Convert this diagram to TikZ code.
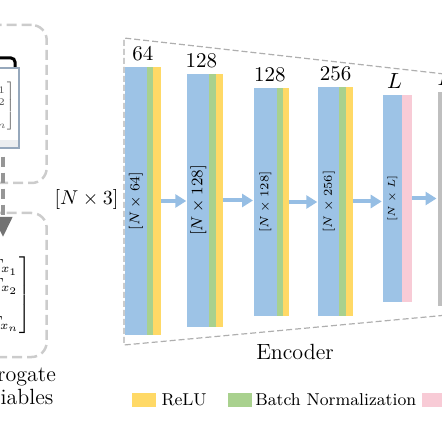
\documentclass[tikz,border=0pt]{standalone}
\usepackage{amsmath}
\usepackage{fontspec}
\usepackage{xcolor}
\usepackage{tikz}
\usetikzlibrary{shapes,arrows,arrows.meta,positioning,calc}
\definecolor{lblue}{RGB}{157,195,230}
\definecolor{lgreen}{RGB}{169,209,142}
\definecolor{lyellow}{RGB}{255,217,102}
\definecolor{lpink}{RGB}{248,203,214}
\definecolor{lgray}{RGB}{191,191,191}
\definecolor{arrowblue}{RGB}{150,190,228}
\definecolor{boxgray}{RGB}{204,204,204}
\definecolor{encgray}{RGB}{175,175,175}
\definecolor{cardedge}{RGB}{150,168,188}
\definecolor{cardband}{RGB}{236,238,240}
\definecolor{shaftgray}{RGB}{150,150,150}
\definecolor{tipgray}{RGB}{115,115,115}

\begin{document}
\begin{tikzpicture}[x=0.5pt, y=-0.5pt]
\tikzstyle{lay} = [rectangle, inner sep=0pt, outer sep=0pt, fill=lblue]
\tikzstyle{a} = [-{Triangle[length=5.5pt,width=6.5pt]}, line width=2pt, draw=arrowblue, shorten >=0.5pt]
\tikzstyle{num} = [font=\fontsize{10.5}{12}\selectfont, anchor=south, inner sep=3pt]
\tikzstyle{dim} = [rotate=90, inner sep=0pt]
\tikzstyle{grp} = [rectangle, draw=boxgray, line width=1.25pt, dash pattern=on 5pt off 2.5pt, rounded corners=7.5pt, inner sep=0pt]
\tikzstyle{enc} = [draw=encgray, line width=0.6pt, dash pattern=on 3pt off 1.5pt]
\tikzstyle{key} = [rectangle, minimum width=12pt, minimum height=7pt, inner sep=0pt]
\tikzstyle{leg} = [font=\fontsize{8.6}{10}\selectfont, inner sep=0pt]
\useasboundingbox (0,0) rectangle (442,442);
\clip (0,0) rectangle (442,442);

% inputs and surrogate variables
\node[grp, minimum width=43.35pt, minimum height=79pt] (inbox) at (3.35,104) {};
\node[grp, minimum width=43.35pt, minimum height=72pt] (outbox) at (3.35,285) {};
\node[rectangle, draw=black, fill=white, line width=1.5pt, rounded corners=2pt, minimum width=27.5pt, minimum height=13.5pt] (back) at (-12.5,71.5) {};
\node[rectangle, draw=cardedge, fill=white, line width=0.6pt, minimum width=29.5pt, minimum height=40pt,
  path picture={\fill[cardband] (path picture bounding box.south west) rectangle ([yshift=4pt]path picture bounding box.south east);}] (card) at (-10.5,108) {};
\node[anchor=east, inner sep=0pt, text=black!65, font=\fontsize{5}{6}\selectfont] (xs) at (15,106)
  {\setlength{\arraycolsep}{1pt}$\begin{bmatrix} x_1\\ x_2\\ \\ x_n \end{bmatrix}$};
\coordinate (tip) at (3,237);
\draw[draw=shaftgray, line width=2pt, dash pattern=on 5pt off 3pt, -{Triangle[length=10pt,width=9pt,color=tipgray]}] (card.south -| tip) ++(0,8) -- (tip);
\node[anchor=east, inner sep=0pt, font=\fontsize{8}{9.5}\selectfont] (fs) at (31,295.5)
  {\setlength{\arraycolsep}{1pt}$\begin{bmatrix} F_{x_1}\\ F_{x_2}\\ \\ F_{x_n} \end{bmatrix}$};
\node[align=center, font=\fontsize{11}{11.5}\selectfont] (sv) at (7.7,385) {\textbf{Sur}rogate\\\textbf{Var}iables};
\node[font=\fontsize{10}{12}\selectfont] (inp) at (86.5,200) {$[N\times 3]$};

% encoder frame
\coordinate (tl) at (124,38);
\coordinate (tr) at (480,78);
\coordinate (bl) at (124,345);
\coordinate (br) at (480,312);
\draw[enc] (tr) -- (tl) -- (bl) -- (br);
\node[font=\fontsize{11}{13}\selectfont] (enc) at (295,352) {Encoder};

% layer 1
\node[lay, minimum width=10.85pt, minimum height=134pt] (b1) at (135.85,201) {};
\node[lay, fill=lgreen, minimum width=3.3pt, minimum height=134pt, right=0pt of b1] (g1) {};
\node[lay, fill=lyellow, minimum width=3.7pt, minimum height=134pt, right=0pt of g1] (y1) {};
\node[dim, font=\fontsize{7}{8}\selectfont] at (b1) {$[N\times 64]$};
\node[num] at ($(b1.north west)!.5!(y1.north east)$) {64};
% layer 2
\node[lay, minimum width=11pt, minimum height=126.5pt] (b2) at (198.3,200.5) {};
\node[lay, fill=lgreen, minimum width=3.35pt, minimum height=126.5pt, right=0pt of b2] (g2) {};
\node[lay, fill=lyellow, minimum width=3.35pt, minimum height=126.5pt, right=0pt of g2] (y2) {};
\node[dim, font=\fontsize{8}{9}\selectfont] at (b2) {$[N\times 128]$};
\node[num] at ($(b2.north west)!.4!(y2.north east)$) {128};
% layer 3
\node[lay, minimum width=11.35pt, minimum height=114pt] (b3) at (265.35,202) {};
\node[lay, fill=lgreen, minimum width=3pt, minimum height=114pt, right=0pt of b3] (g3) {};
\node[lay, fill=lyellow, minimum width=3.2pt, minimum height=114pt, right=0pt of g3] (y3) {};
\node[dim, font=\fontsize{6.5}{8}\selectfont] at (b3) {$[N\times 128]$};
\node[num] at ($(b3.north west)!.45!(y3.north east)$) {128};
% layer 4
\node[lay, minimum width=10.5pt, minimum height=114.5pt] (b4) at (328.8,201.5) {};
\node[lay, fill=lgreen, minimum width=3.35pt, minimum height=114.5pt, right=0pt of b4] (g4) {};
\node[lay, fill=lyellow, minimum width=3.35pt, minimum height=114.5pt, right=0pt of g4] (y4) {};
\node[dim, font=\fontsize{6.5}{8}\selectfont] at (b4) {$[N\times 256]$};
\node[num] at ($(b4.north west)!.5!(y4.north east)$) {256};
% layer 5 (latent)
\node[lay, minimum width=9.7pt, minimum height=103.5pt] (b5) at (392.4,198.5) {};
\node[lay, fill=lpink, minimum width=5pt, minimum height=103.5pt, right=0pt of b5] (p5) {};
\node[dim, font=\fontsize{5.5}{7}\selectfont] at (b5) {$[N\times L]$};
\node[num] at ($(b5.north west)!.4!(p5.north east)$) {$L$};
% layer 6
\node[lay, fill=lgray, minimum width=10pt, minimum height=107pt] (k6) at (447.5,199) {};
\node[num] at ($(k6.north)+(-2.5,0)$) {$L$};

\draw[a] (y1) -- (y1 -| b2.west);
\draw[a] (y2) -- (y2 -| b3.west);
\draw[a] (y3) -- (y3 -| b4.west);
\draw[a] (y4) -- (y4 -| b5.west);
\draw[a] (p5) -- (p5 -| k6.west);

% legend
\node[key, fill=lyellow] (k1) at (143.7,399.7) {};
\node[leg, right=2.5pt of k1] (t1) {ReLU};
\node[key, fill=lgreen, right=10.5pt of t1] (k2) {};
\node[leg, right=1pt of k2] (t2) {Batch Normalization};
\node[key, fill=lpink, right=2.7pt of t2] (k3) {};
\end{tikzpicture}
\end{document}
